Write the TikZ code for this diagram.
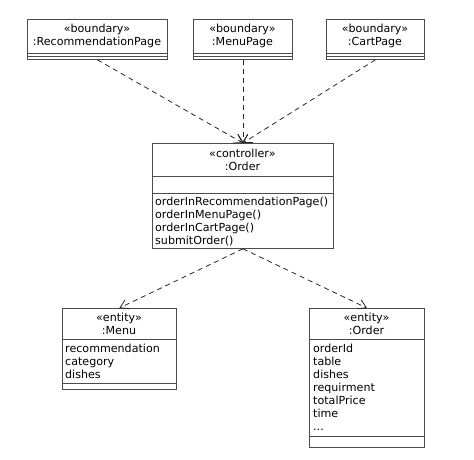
\documentclass[tikz,border=0pt]{standalone}
\usepackage{fontspec}
\setmainfont{DejaVu Sans}
\usetikzlibrary{arrows.meta}
\begin{document}
\begin{tikzpicture}[x=1pt,y=-1pt,
  box/.style={draw=black!70, line width=0.8pt, rectangle, inner sep=0pt, anchor=north west},
  sepline/.style={draw=black!70, line width=0.8pt},
  txt/.style={inner sep=0pt, font=\fontsize{11.1}{13}\selectfont, align=center},
  lst/.style={inner sep=0pt, font=\fontsize{11.1}{13}\selectfont, align=left, anchor=north west},
  dep/.style={draw=black!85, dash pattern=on 5pt off 4pt, line width=0.8pt, -{Straight Barb[length=8pt,width=10pt]}}]
\useasboundingbox (0,0) rectangle (474,459);
% boundary boxes
\node[box, minimum width=140pt, minimum height=40pt] (b1) at (27,19) {};
\draw[sepline] (27,53) -- (167,53) (27,56) -- (167,56);
\node[txt] (b1t) at (97,36) {«boundary»\\:RecommendationPage};
\node[box, minimum width=99pt, minimum height=40pt] (b2) at (193,19) {};
\draw[sepline] (193,53) -- (292,53) (193,56) -- (292,56);
\node[txt] (b2t) at (242.5,36) {«boundary»\\:MenuPage};
\node[box, minimum width=98pt, minimum height=40pt] (b3) at (326,19) {};
\draw[sepline] (326,53) -- (424,53) (326,56) -- (424,56);
\node[txt] (b3t) at (375,36) {«boundary»\\:CartPage};
% controller
\node[box, minimum width=181pt, minimum height=105pt] (c) at (152,143) {};
\draw[sepline] (152,176) -- (333,176) (152,193) -- (333,193);
\node[txt] (ct) at (242.5,159.5) {«controller»\\:Order};
\node[lst] (cm) at (155,197) {orderInRecommendationPage()\\orderInMenuPage()\\orderInCartPage()\\submitOrder()};
% entity Menu
\node[box, minimum width=114pt, minimum height=81pt] (m) at (62,308) {};
\draw[sepline] (62,339) -- (176,339) (62,383) -- (176,383);
\node[txt] (mt) at (119,323.5) {«entity»\\:Menu};
\node[lst] (ma) at (65,344) {recommendation\\category\\dishes};
% entity Order
\node[box, minimum width=115pt, minimum height=139pt] (o) at (309,308) {};
\draw[sepline] (309,339) -- (424,339) (309,436) -- (424,436);
\node[txt] (ot) at (366.5,323.5) {«entity»\\:Order};
\node[lst] (oa) at (313,344) {orderId\\table\\dishes\\requirment\\totalPrice\\time\\...};
% dependencies
\draw[dep] (b1.south) -- (c.north);
\draw[dep] (b2.south) -- (c.north);
\draw[dep] (b3.south) -- (c.north);
\draw[dep] (c.south) -- (m.north);
\draw[dep] (c.south) -- (o.north);
\end{tikzpicture}
\end{document}
